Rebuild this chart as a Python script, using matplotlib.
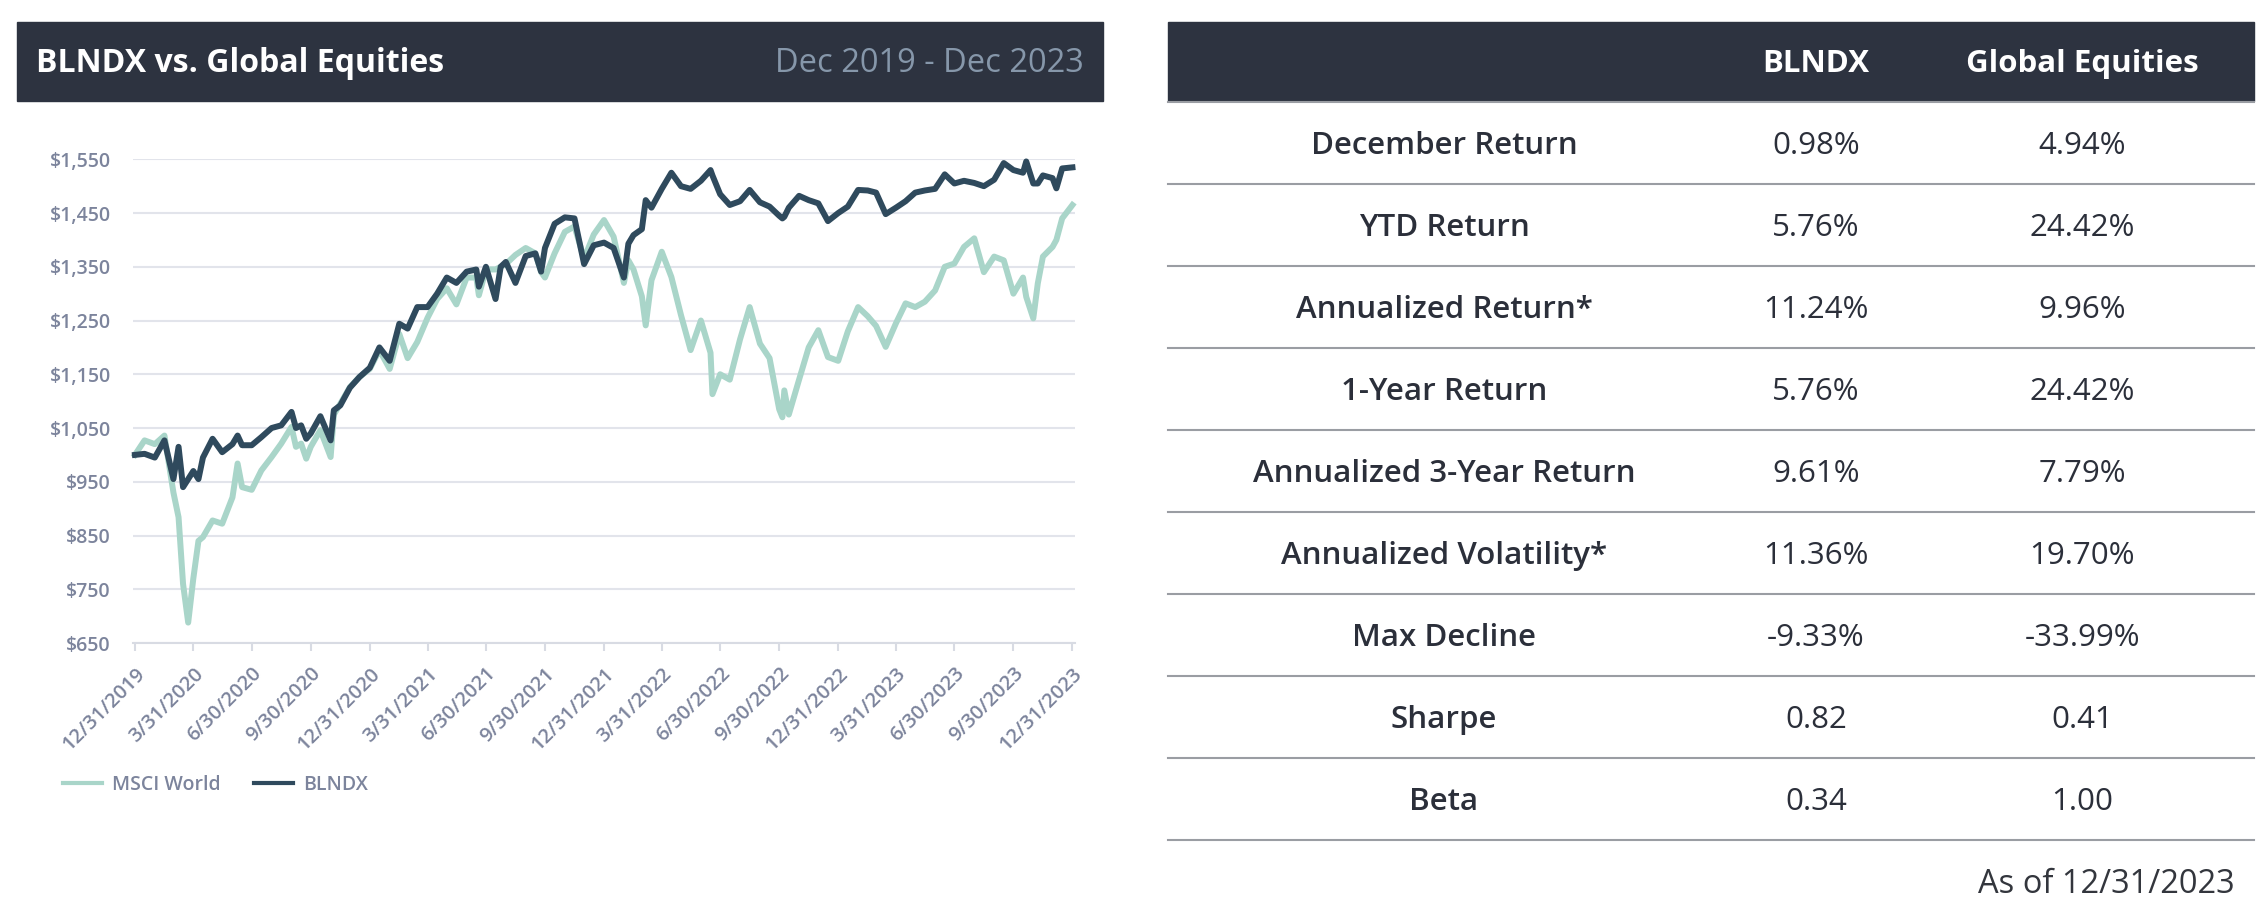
import matplotlib.pyplot as plt
import pandas as pd
from matplotlib.patches import Rectangle
from matplotlib.lines import Line2D

# ---- data ----
dates = [
    '2019-12-31', '2020-01-15', '2020-01-31', '2020-02-15', '2020-02-29', '2020-03-08', '2020-03-15', '2020-03-23',
    '2020-03-31', '2020-04-08', '2020-04-15', '2020-04-30', '2020-05-15', '2020-05-31', '2020-06-08', '2020-06-15',
    '2020-06-30', '2020-07-15', '2020-07-31', '2020-08-15', '2020-08-31', '2020-09-07', '2020-09-15', '2020-09-23',
    '2020-09-30', '2020-10-15', '2020-10-31', '2020-11-05', '2020-11-15', '2020-11-30', '2020-12-15', '2020-12-31',
    '2021-01-15', '2021-01-31', '2021-02-15', '2021-02-28', '2021-03-15', '2021-03-31', '2021-04-15', '2021-04-30',
    '2021-05-15', '2021-05-31', '2021-06-15', '2021-06-19', '2021-06-30', '2021-07-15', '2021-07-23', '2021-07-31',
    '2021-08-15', '2021-08-31', '2021-09-15', '2021-09-24', '2021-09-30', '2021-10-15', '2021-10-31', '2021-11-15',
    '2021-11-30', '2021-12-15', '2021-12-31',
    '2022-01-15', '2022-01-31', '2022-02-07', '2022-02-15', '2022-02-28', '2022-03-06', '2022-03-15', '2022-03-31',
    '2022-04-15', '2022-04-30', '2022-05-15', '2022-05-31', '2022-06-15', '2022-06-18', '2022-06-30', '2022-07-15',
    '2022-07-31', '2022-08-15', '2022-08-31', '2022-09-15', '2022-09-30', '2022-10-05', '2022-10-08', '2022-10-15',
    '2022-10-31', '2022-11-15', '2022-11-30', '2022-12-15', '2022-12-31',
    '2023-01-15', '2023-01-31', '2023-02-15', '2023-02-28', '2023-03-15', '2023-03-31', '2023-04-15', '2023-04-30',
    '2023-05-15', '2023-05-31', '2023-06-15', '2023-06-30', '2023-07-15', '2023-07-31', '2023-08-15', '2023-08-31',
    '2023-09-15', '2023-09-30', '2023-10-15', '2023-10-20', '2023-10-31', '2023-11-07', '2023-11-15', '2023-11-30',
    '2023-12-06', '2023-12-15', '2023-12-31',
]

blndx = [
    1000, 1002, 995, 1027, 955, 1015, 940, 955, 970, 955, 995, 1030, 1005, 1020, 1036, 1018,
    1018, 1033, 1050, 1055, 1080, 1050, 1055, 1030, 1040, 1072, 1027, 1083, 1092, 1125, 1145, 1162,
    1200, 1175, 1244, 1235, 1275, 1275, 1300, 1330, 1320, 1341, 1345, 1313, 1350, 1290, 1350, 1359,
    1320, 1370, 1375, 1341, 1385, 1430, 1442, 1440, 1355, 1390, 1395,
    1385, 1330, 1393, 1409, 1420, 1474, 1460, 1495, 1525, 1500, 1495, 1510, 1530, 1520, 1485, 1465,
    1472, 1493, 1470, 1462, 1445, 1440, 1443, 1460, 1482, 1474, 1468, 1435, 1450,
    1462, 1493, 1492, 1488, 1448, 1460, 1472, 1488, 1492, 1495, 1522, 1505, 1510, 1506, 1500, 1512,
    1543, 1530, 1525, 1546, 1505, 1505, 1520, 1515, 1496, 1533, 1535,
]

msci_world = [
    1000, 1027, 1020, 1036, 930, 884, 760, 688, 770, 840, 847, 878, 872, 921, 984, 940,
    935, 971, 996, 1021, 1052, 1015, 1021, 993, 1015, 1046, 996, 1075, 1095, 1126, 1145, 1160,
    1195, 1160, 1225, 1180, 1210, 1255, 1290, 1310, 1280, 1330, 1330, 1297, 1345, 1345, 1350, 1355,
    1372, 1385, 1375, 1340, 1330, 1375, 1415, 1425, 1365, 1410, 1437,
    1406, 1320, 1362, 1345, 1295, 1241, 1325, 1378, 1331, 1260, 1195, 1250, 1190, 1113, 1150, 1140,
    1215, 1275, 1207, 1180, 1085, 1070, 1120, 1075, 1140, 1200, 1232, 1182, 1175,
    1230, 1275, 1258, 1240, 1201, 1245, 1282, 1275, 1285, 1306, 1350, 1356, 1387, 1403, 1340, 1369,
    1362, 1300, 1330, 1294, 1254, 1319, 1369, 1387, 1400, 1440, 1465,
]

tick_dates = ['2019-12-31', '2020-03-31', '2020-06-30', '2020-09-30', '2020-12-31', '2021-03-31',
              '2021-06-30', '2021-09-30', '2021-12-31', '2022-03-31', '2022-06-30', '2022-09-30',
              '2022-12-31', '2023-03-31', '2023-06-30', '2023-09-30', '2023-12-31']
tick_labels = ['12/31/2019', '3/31/2020', '6/30/2020', '9/30/2020', '12/31/2020', '3/31/2021',
               '6/30/2021', '9/30/2021', '12/31/2021', '3/31/2022', '6/30/2022', '9/30/2022',
               '12/31/2022', '3/31/2023', '6/30/2023', '9/30/2023', '12/31/2023']
y_ticks = [650, 750, 850, 950, 1050, 1150, 1250, 1350, 1450, 1550]
y_labels = ['$650', '$750', '$850', '$950', '$1,050', '$1,150', '$1,250', '$1,350', '$1,450', '$1,550']

stat_names = ['December Return', 'YTD Return', 'Annualized Return*', '1-Year Return',
              'Annualized 3-Year Return', 'Annualized Volatility*', 'Max Decline', 'Sharpe', 'Beta']
blndx_stats = ['0.98%', '5.76%', '11.24%', '5.76%', '9.61%', '11.36%', '-9.33%', '0.82', '0.34']
global_stats = ['4.94%', '24.42%', '9.96%', '24.42%', '7.79%', '19.70%', '-33.99%', '0.41', '1.00']

# ---- style ----
plt.rcParams['font.family'] = ['Open Sans', 'DejaVu Sans']
HEAD = '#2d3340'
DARK = '#2f4a5d'
TEAL = '#a9d5c9'
SLATE = '#7c849c'
TXT = '#2b2f3a'
RULE = '#9a9da3'

W, H = 2266, 911
fig = plt.figure(figsize=(W / 100, H / 100), dpi=100)

# pixel-coordinate overlay for headers and table
bg = fig.add_axes([0, 0, 1, 1])
bg.set_xlim(0, W)
bg.set_ylim(H, 0)
bg.axis('off')

# left header
bg.add_patch(Rectangle((17, 22), 1086, 79, color=HEAD))
bg.text(36, 72, 'BLNDX vs. Global Equities', color='white', fontsize=23,
        fontweight='bold', va='baseline')
bg.text(1084, 72, 'Dec 2019 - Dec 2023', color='#8697aa', fontsize=23.5,
        ha='right', va='baseline')

# line chart
ax = fig.add_axes([133 / W, (H - 643) / H, (1075 - 133) / W, (643 - 159.3) / H])
x = pd.to_datetime(dates)
ax.plot(x, msci_world, color=TEAL, lw=4.3, clip_on=False, solid_joinstyle='round')
ax.plot(x, blndx, color=DARK, lw=4.3, clip_on=False, solid_joinstyle='round')

ax.set_ylim(650, 1550)
ax.set_xlim(pd.Timestamp('2019-12-31') - pd.Timedelta(days=3), pd.Timestamp('2023-12-31') + pd.Timedelta(days=4))
ax.set_yticks(y_ticks, y_labels)
ax.set_xticks(pd.to_datetime(tick_dates), tick_labels)
ax.yaxis.grid(True, color='#e2e4eb', lw=1.5)
ax.set_axisbelow(True)
for s in ['top', 'right', 'left']:
    ax.spines[s].set_visible(False)
ax.spines['bottom'].set_color('#d8dbe3')
ax.spines['bottom'].set_linewidth(1.5)
ax.tick_params(axis='y', length=0, pad=16, labelsize=14, labelcolor=SLATE)
ax.tick_params(axis='x', length=6, width=1.5, color='#d8dbe3', pad=9, labelsize=14.5, labelcolor=SLATE)
plt.setp(ax.get_xticklabels(), rotation=45, ha='right', va='top', rotation_mode='anchor', fontweight='semibold')
plt.setp(ax.get_yticklabels(), fontweight='semibold')

handles = [Line2D([], [], color=TEAL, lw=3), Line2D([], [], color=DARK, lw=3)]
leg = ax.legend(handles, ['MSCI World', 'BLNDX'], loc='center left',
                bbox_to_anchor=(63 / W, (H - 785) / H), bbox_transform=fig.transFigure,
                ncol=2, frameon=False, fontsize=14, labelcolor=SLATE, handlelength=2.0,
                handletextpad=0.5, columnspacing=1.75, borderpad=0, borderaxespad=0)
for t in leg.get_texts():
    t.set_fontweight('semibold')

# right table
bg.add_patch(Rectangle((1168, 22), 1086, 79, color=HEAD))
bg.text(1816, 72, 'BLNDX', color='white', fontsize=22.5, fontweight='bold', ha='center', va='baseline')
bg.text(2082, 72, 'Global Equities', color='white', fontsize=22.5, fontweight='bold', ha='center', va='baseline')
bg.plot([1168, 2254], [102, 102], color=RULE, lw=1.5)

for i, (name, b, g) in enumerate(zip(stat_names, blndx_stats, global_stats)):
    base = 154 + 82 * i
    bg.text(1444, base, name, color=TXT, fontsize=22.5, fontweight='semibold', ha='center', va='baseline')
    bg.text(1816, base, b, color=TXT, fontsize=22.5, ha='center', va='baseline')
    bg.text(2082, base, g, color=TXT, fontsize=22.5, ha='center', va='baseline')
    bg.plot([1168, 2254], [184 + 82 * i, 184 + 82 * i], color=RULE, lw=1.5)

bg.text(2235, 893, 'As of 12/31/2023', color='#33363d', fontsize=23.5, ha='right', va='baseline')

fig.savefig('out.png', dpi=100)
